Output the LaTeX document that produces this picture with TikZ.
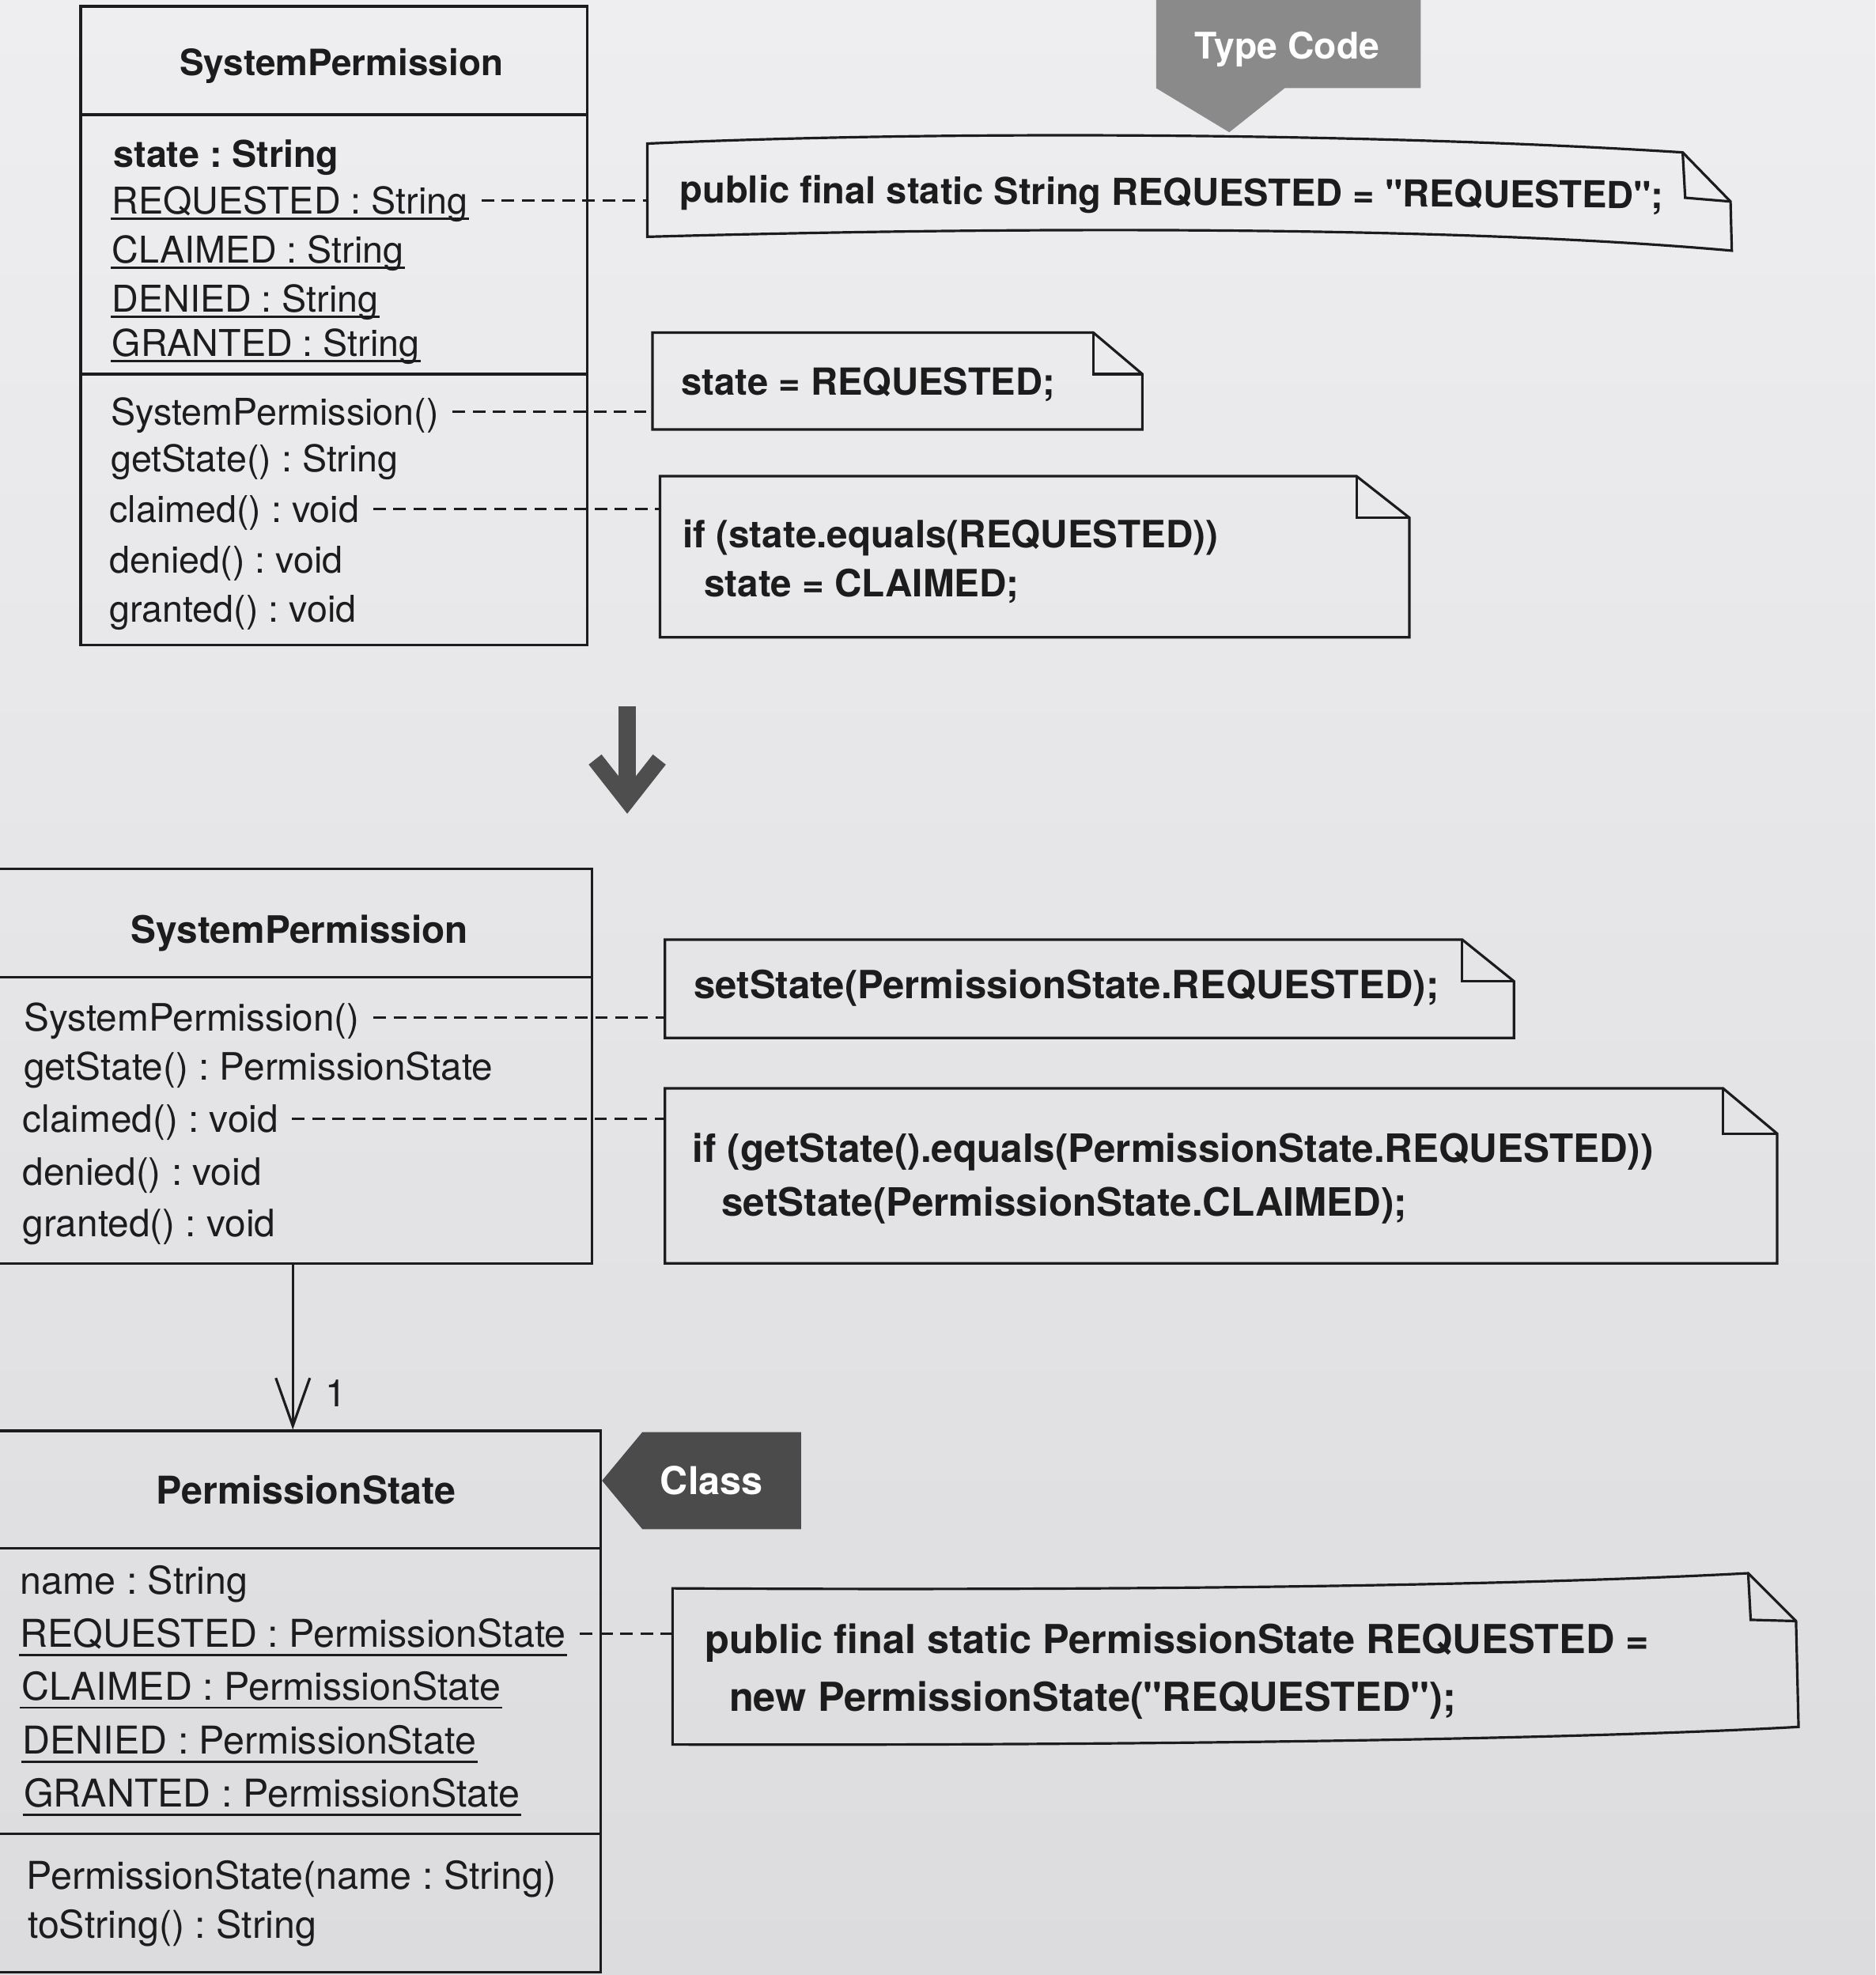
\documentclass[tikz,border=0pt]{standalone}
\usepackage{fontspec}
\setmainfont{TeX Gyre Heros}[Ligatures=TeXOff]
\usetikzlibrary{calc,arrows.meta}
\definecolor{ink}{HTML}{1C1C1C}
\definecolor{paperA}{HTML}{EEEEF0}
\definecolor{paperB}{HTML}{DCDCDF}
\definecolor{tagA}{HTML}{8A8A8A}
\definecolor{tagB}{HTML}{4B4B4B}
\definecolor{bigarrow}{HTML}{4E4E4E}
\newcommand\myfs[1]{\fontsize{#1pt}{#1pt}\selectfont}
\newcommand\drawnote[3]{%
  \draw (#1.south west) -- (#1.north west) -- ([xshift=-#2pt]#1.north east)
        -- ([yshift=-#3pt]#1.north east) -- (#1.south east) -- cycle;
  \draw ([xshift=-#2pt]#1.north east) -- ([xshift=-#2pt,yshift=-#3pt]#1.north east)
        -- ([yshift=-#3pt]#1.north east);}
\frenchspacing
\begin{document}
\frenchspacing
\begin{tikzpicture}[x=1pt,y=-1pt,line width=2pt,color=ink,
  cls/.style={draw, line width=2pt, inner sep=0pt, anchor=north west},
  row/.style={anchor=west, inner sep=0pt, text height=21.5pt, text depth=0pt},
  rowA/.style={row, font=\myfs{29.3}},
  rowB/.style={row, font=\myfs{30}},
  rowC/.style={row, font=\myfs{30.4}},
  ttl/.style={anchor=center, inner sep=0pt, text height=21.5pt, text depth=0pt, font=\bfseries\myfs{#1}},
  nt/.style={anchor=west, inner sep=0pt, text height=21.5pt, text depth=0pt, font=\bfseries\myfs{#1}},
  notebox/.style={inner sep=0pt, anchor=north west},
  conn/.style={dash pattern=on 10pt off 6pt, line width=1.8pt},
  uline/.style={line width=1.8pt},
  tagtxt/.style={text=white, font=\bfseries\myfs{#1}, inner sep=0pt, text height=21.5pt, text depth=0pt},
  multlabel/.style={font=\myfs{30}, inner sep=0pt, text height=21.5pt, text depth=0pt}
]
\useasboundingbox (0,0) rectangle (1489,1568);
\fill[top color=paperA, bottom color=paperB, draw=none] (0,0) rectangle (1489,1568);

%% ---------------- top class ----------------
\node[cls, minimum width=402pt, minimum height=507pt] (sp1) at (63,4) {};
\draw (63,91) -- (465,91);
\draw (63,297) -- (465,297);
\node[ttl=28.8] (sp1t) at (271,49) {SystemPermission};
\node[rowA] (a1) at (89,122) {\bfseries state : String};
\node[rowA] (a2) at (88,159) {REQUESTED : String};
\node[rowA] (a3) at (88,198) {CLAIMED : String};
\node[rowA] (a4) at (88,237) {DENIED : String};
\node[rowA] (a5) at (88,272) {GRANTED : String};
\foreach \r in {a2,a3,a4,a5}
  \draw[uline] ([yshift=-3pt]\r.south west) -- ([yshift=-3pt]\r.south east);
\node[rowA] (m1) at (87,327) {SystemPermission()};
\node[rowA] (m2) at (87,364) {getState() : String};
\node[rowA] (m3) at (86,404) {claimed() : void};
\node[rowA] (m4) at (86,444) {denied() : void};
\node[rowA] (m5) at (86,483) {granted() : void};

%% Type Code tag
\path[fill=tagA] (918,-5) -- (1128,-5) -- (1128,70) -- (1020,70) -- (976,105) -- (918,70) -- cycle;
\node[tagtxt=29.1] (tc) at (1022,36) {Type Code};

%% top notes
\node[notebox, minimum width=861pt, minimum height=80pt] (n1) at (514,112) {};
\draw (514,114) .. controls (760,103) and (1100,106) .. (1336,121) -- (1374,160) -- (1375,199)
      .. controls (1150,179) and (800,180) .. (514,188) -- cycle;
\draw (1336,121) -- (1338,157) -- (1374,160);
\node[nt=29.5, rotate=-0.35] (n1a) at (539,150) {public final static String REQUESTED = "REQUESTED";};

\node[notebox, minimum width=387pt, minimum height=75pt] (n2) at (518,264) {};
\drawnote{n2}{39}{33}
\node[nt=29.6] (n2a) at (540,303) {state = REQUESTED;};

\node[notebox, minimum width=593pt, minimum height=126pt] (n3) at (524,378) {};
\drawnote{n3}{42}{33}
\node[nt=29.9] (n3a) at (541,424) {if (state.equals(REQUESTED))};
\node[nt=29.9] (n3b) at (558,463) {state = CLAIMED;};

\draw[conn] ($(a2.east)+(10,0)$) -- (a2.east -| n1.west);
\draw[conn] ($(m1.east)+(10,0)$) -- (m1.east -| n2.west);
\draw[conn] ($(m3.east)+(10,0)$) -- (m3.east -| n3.west);

%% big down arrow
\draw[bigarrow, line width=14pt] (498,561) -- (498,628);
\draw[bigarrow, line width=13pt, line join=miter, miter limit=20] (472.5,603) -- (498,635.5) -- (523.5,603);

%% ---------------- middle class ----------------
\node[cls, minimum width=475pt, minimum height=313pt] (sp2) at (-6,689) {};
\draw (-6,776) -- (469,776);
\node[ttl=30] (sp2t) at (238,738) {SystemPermission};
\node[rowB] (b1) at (18,808) {SystemPermission()};
\node[rowB] (b2) at (18,847) {getState() : PermissionState};
\node[rowB] (b3) at (17,888) {claimed() : void};
\node[rowB] (b4) at (17,930) {denied() : void};
\node[rowB] (b5) at (17,971) {granted() : void};

\node[notebox, minimum width=672pt, minimum height=76pt] (n5) at (528,746) {};
\drawnote{n5}{41}{33}
\node[nt=30.8] (n5a) at (550,782) {setState(PermissionState.REQUESTED);};

\node[notebox, minimum width=881pt, minimum height=137pt] (n6) at (528,864) {};
\drawnote{n6}{43}{36}
\node[nt=31] (n6a) at (549,912) {if (getState().equals(PermissionState.REQUESTED))};
\node[nt=31] (n6b) at (572,955) {setState(PermissionState.CLAIMED);};

\draw[conn] ($(b1.east)+(10,0)$) -- (b1.east -| n5.west);
\draw[conn] ($(b3.east)+(10,0)$) -- (b3.east -| n6.west);

%% ---------------- PermissionState class ----------------
\node[cls, minimum width=482pt, minimum height=430pt] (ps) at (-6,1135) {};
\draw (-6,1229) -- (476,1229);
\draw (-6,1456) -- (476,1456);
\node[ttl=30.4] (pst) at (243,1183) {PermissionState};
\node[rowC] (c1) at (15,1255) {name : String};
\node[rowC] (c2) at (15,1297) {REQUESTED : PermissionState};
\node[rowC] (c3) at (16,1339) {CLAIMED : PermissionState};
\node[rowC] (c4) at (17,1382) {DENIED : PermissionState};
\node[rowC] (c5) at (18,1424) {GRANTED : PermissionState};
\foreach \r in {c2,c3,c4,c5}
  \draw[uline] ([yshift=-5pt]\r.south west) -- ([yshift=-5pt]\r.south east);
\node[rowC] (d1) at (20,1489) {PermissionState(name : String)};
\node[rowC] (d2) at (21,1528) {toString() : String};

%% association
\draw[-{Straight Barb[length=38pt,width=27pt,line width=2pt]}] (sp2.south) -- (sp2.south |- ps.north);
\node[multlabel] (mult) at (267,1106) {1};

%% Class tag
\path[fill=tagB] (510,1137) -- (636,1137) -- (636,1214) -- (510,1214) -- (478,1175.5) -- cycle;
\node[tagtxt=30.5] (ct) at (565,1176) {Class};

%% bottom note
\node[notebox, minimum width=894pt, minimum height=128pt] (n7) at (534,1257) {};
\draw (534,1261) .. controls (900,1263) and (1200,1259) .. (1388,1249) -- (1426,1287) -- (1428,1371)
      .. controls (1250,1381) and (900,1386) .. (534,1385) -- cycle;
\draw (1388,1249) -- (1390,1286) -- (1426,1287);
\node[nt=31.7] (n7a) at (559,1302) {public final static PermissionState REQUESTED =};
\node[nt=31.7] (n7b) at (578,1348) {new PermissionState("REQUESTED");};

\draw[conn] ($(c2.east)+(10,0)$) -- (c2.east -| n7.west);
\end{tikzpicture}
\end{document}
